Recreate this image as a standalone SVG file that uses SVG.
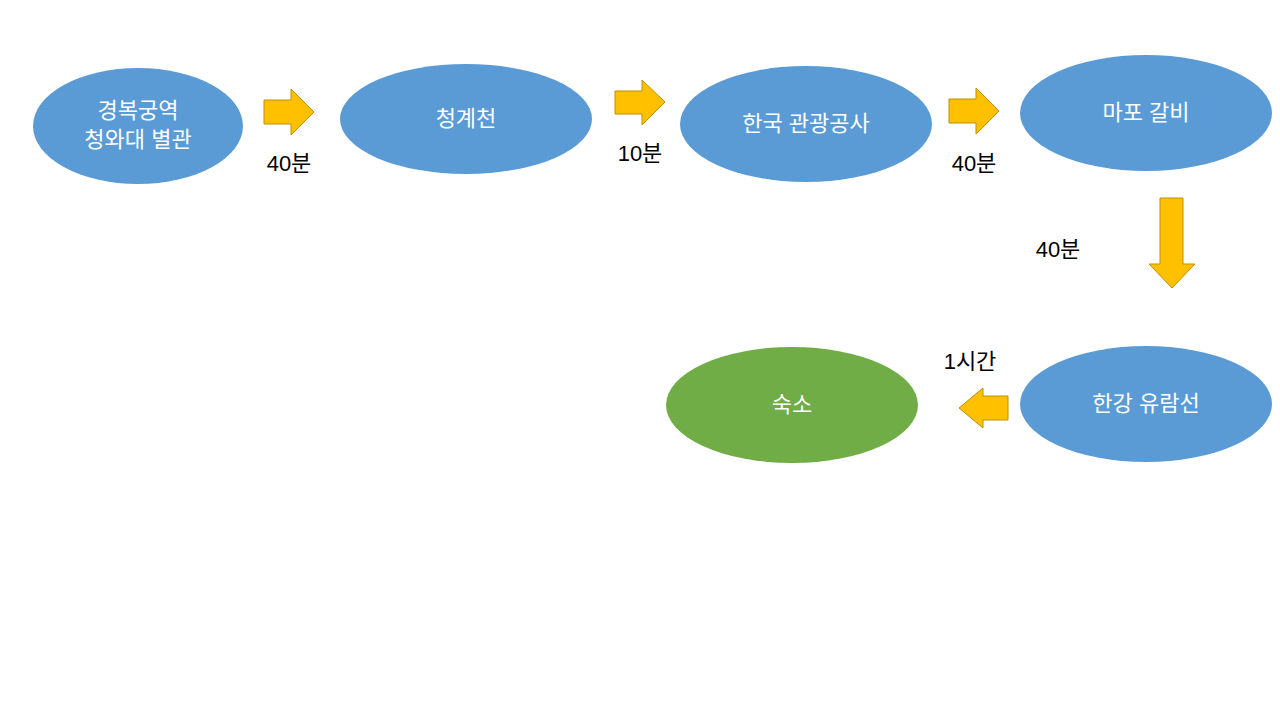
<svg xmlns="http://www.w3.org/2000/svg" width="1280" height="720" viewBox="0 0 1280 720">
<style>
.b{fill:#5B9BD5}.g{fill:#70AD47}
.t{font-family:"Liberation Sans","Noto Sans CJK KR",sans-serif;font-size:22px;fill:#fff;text-anchor:middle}
.l{font-family:"Liberation Sans","Noto Sans CJK KR",sans-serif;font-size:22px;fill:#000;text-anchor:middle}
.a{fill:#FFC000;stroke:#BF9000;stroke-width:1}
</style>
<rect width="1280" height="720" fill="#fff"/>
<g id="n1"><ellipse class="b" cx="138" cy="126" rx="105" ry="58"/><text class="t" x="138" y="118">경복궁역</text><text class="t" x="138" y="147">청와대 별관</text></g>
<g id="n2"><ellipse class="b" cx="466" cy="119" rx="126" ry="55"/><text class="t" x="466" y="126">청계천</text></g>
<g id="n3"><ellipse class="b" cx="806" cy="124" rx="126" ry="58"/><text class="t" x="806" y="131">한국 관광공사</text></g>
<g id="n4"><ellipse class="b" cx="1146" cy="113" rx="126" ry="58"/><text class="t" x="1146" y="120">마포 갈비</text></g>
<g id="n5"><ellipse class="b" cx="1146" cy="404" rx="126" ry="58"/><text class="t" x="1146" y="411">한강 유람선</text></g>
<g id="n6"><ellipse class="g" cx="792" cy="405" rx="126" ry="58"/><text class="t" x="792" y="412">숙소</text></g>
<g id="connectors">
<polygon class="a" points="264,100 291,100 291,89 314,112 291,135 291,124 264,124"/>
<polygon class="a" points="615,91 642,91 642,80 665,102 642,125 642,114 615,114"/>
<polygon class="a" points="949,99 976,99 976,88 999,111 976,134 976,123 949,123"/>
<polygon class="a" points="1160,198 1183,198 1183,264 1195,264 1172,288 1149,264 1160,264"/>
<polygon class="a" points="1008,396 983,396 983,388 959,408 983,428 983,420 1008,420"/>
<text class="l" x="289" y="171">40분</text>
<text class="l" x="640" y="161">10분</text>
<text class="l" x="974" y="171">40분</text>
<text class="l" x="1058" y="257">40분</text>
<text class="l" x="970" y="369">1시간</text>
</g>
</svg>
